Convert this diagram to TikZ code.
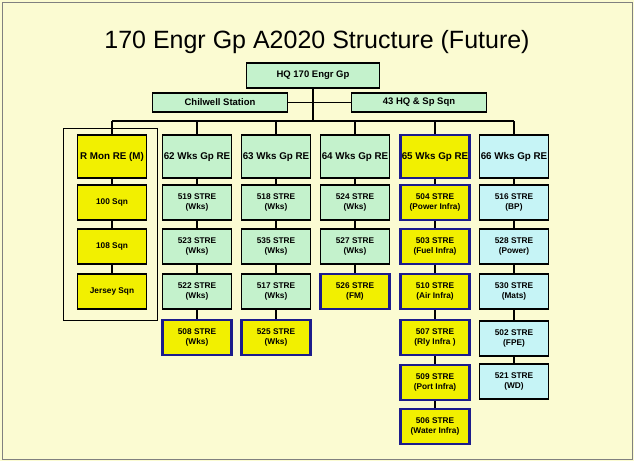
\documentclass[tikz,border=0pt]{standalone}
\usepackage{fontspec}
\setmainfont{Liberation Sans}
\definecolor{bgyel}{HTML}{FBFBD2}
\definecolor{mint}{HTML}{C4F2CC}
\definecolor{aqua}{HTML}{C6F4F6}
\definecolor{yel}{HTML}{F2F000}
\definecolor{navy}{HTML}{1C1C8C}
\begin{document}
\begin{tikzpicture}[x=1pt, y=-1pt, line width=1.4pt,
    box/.style = {draw, minimum width=69pt, minimum height=35pt, inner sep=1pt, align=center, font=\bfseries\fontsize{8.3}{9.5}\selectfont},
    head/.style = {box, minimum height=43pt, font=\bfseries\fontsize{9.8}{12}\selectfont},
    grn/.style = {fill=mint}, cyn/.style = {fill=aqua},
    yl/.style = {fill=yel}, ylb/.style = {fill=yel, draw=navy, line width=2.4pt}]

    \fill[bgyel] (0,0) rectangle (634,461);
    \draw[gray, line width=1pt] (2,2) rectangle (632,459);
    \node (title) at (317,42) {\fontsize{25}{28}\selectfont 170 Engr Gp A2020 Structure (Future)};

    \node[box, grn, minimum width=133pt, minimum height=25pt, font=\bfseries\fontsize{9.5}{10}\selectfont] (hq) at (313,75.5) {HQ 170 Engr Gp};
    \node[box, grn, minimum width=135pt, minimum height=19pt, font=\bfseries\fontsize{9.5}{10}\selectfont] (chil) at (220,102.5) {Chilwell Station};
    \node[box, grn, minimum width=135pt, minimum height=19pt, font=\bfseries\fontsize{9.5}{10}\selectfont] (sqn) at (419,102.5) {43 HQ \& Sp Sqn};
    \coordinate (bus) at (313,121);

    \draw[line width=1pt] (63,128) rectangle (157,320);

    % headers
    \node[head, yl] (rmon) at (112,156.5) {R Mon RE (M)};
    \node[head, grn] (g62) at (197,156.5) {62 Wks Gp RE};
    \node[head, grn] (g63) at (276,156.5) {63 Wks Gp RE};
    \node[head, grn] (g64) at (355,156.5) {64 Wks Gp RE};
    \node[head, ylb] (g65) at (435,156.5) {65 Wks Gp RE};
    \node[head, cyn] (g66) at (514,156.5) {66 Wks Gp RE};

    % R Mon
    \node[box, yl] (s100) at (112,202.5) {100 Sqn};
    \node[box, yl] (s108) at (112,246.5) {108 Sqn};
    \node[box, yl] (jer) at (112,291.5) {Jersey Sqn};
    % 62
    \node[box, grn] (s519) at (197,202.5) {519 STRE\\(Wks)};
    \node[box, grn] (s523) at (197,246.5) {523 STRE\\(Wks)};
    \node[box, grn] (s522) at (197,291.5) {522 STRE\\(Wks)};
    \node[box, ylb] (s508) at (197,337.5) {508 STRE\\(Wks)};
    % 63
    \node[box, grn] (s518) at (276,202.5) {518 STRE\\(Wks)};
    \node[box, grn] (s535) at (276,246.5) {535 STRE\\(Wks)};
    \node[box, grn] (s517) at (276,291.5) {517 STRE\\(Wks)};
    \node[box, ylb] (s525) at (276,337.5) {525 STRE\\(Wks)};
    % 64
    \node[box, grn] (s524) at (355,202.5) {524 STRE\\(Wks)};
    \node[box, grn] (s527) at (355,246.5) {527 STRE\\(Wks)};
    \node[box, ylb] (s526) at (355,291.5) {526 STRE\\(FM)};
    % 65
    \node[box, ylb] (s504) at (435,202.5) {504 STRE\\(Power Infra)};
    \node[box, ylb] (s503) at (435,246.5) {503 STRE\\(Fuel Infra)};
    \node[box, ylb] (s510) at (435,291.5) {510 STRE\\(Air Infra)};
    \node[box, ylb] (s507) at (435,337.5) {507 STRE\\(Rly Infra )};
    \node[box, ylb] (s509) at (435,382.5) {509 STRE\\(Port Infra)};
    \node[box, ylb] (s506) at (435,426.5) {506 STRE\\(Water Infra)};
    % 66
    \node[box, cyn] (s516) at (514,202.5) {516 STRE\\(BP)};
    \node[box, cyn] (s528) at (514,246.5) {528 STRE\\(Power)};
    \node[box, cyn] (s530) at (514,291.5) {530 STRE\\(Mats)};
    \node[box, cyn] (s502) at (514,338.5) {502 STRE\\(FPE)};
    \node[box, cyn] (s521) at (514,381.5) {521 STRE\\(WD)};

    % connectors
    \draw (hq) -- (bus);
    \draw (chil) -- (sqn);
    \draw (rmon.north |- bus) -- (g66.north |- bus);
    \foreach \c in {rmon, g62, g63, g64, g65, g66}
        \draw (\c.north) -- (\c.north |- bus);
    \draw (rmon) -- (s100) -- (s108) -- (jer);
    \draw (g62) -- (s519) -- (s523) -- (s522) -- (s508);
    \draw (g63) -- (s518) -- (s535) -- (s517) -- (s525);
    \draw (g64) -- (s524) -- (s527) -- (s526);
    \draw (g65) -- (s504) -- (s503) -- (s510) -- (s507) -- (s509) -- (s506);
    \draw (g66) -- (s516) -- (s528) -- (s530) -- (s502) -- (s521);
\end{tikzpicture}
\end{document}
